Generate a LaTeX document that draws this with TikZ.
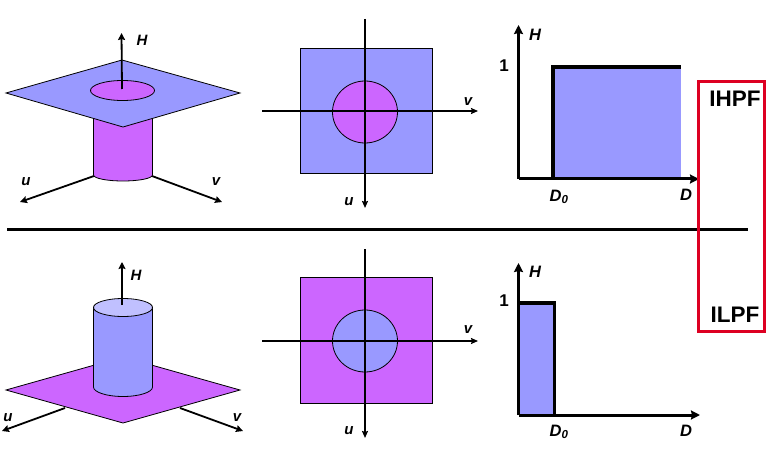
\documentclass[tikz,border=0pt]{standalone}
\usepackage{fontspec}
\setmainfont{Liberation Sans}
\usetikzlibrary{arrows.meta}
\definecolor{filtblue}{RGB}{153,153,255}
\definecolor{filtlight}{RGB}{192,192,255}
\definecolor{filtpurple}{RGB}{204,102,255}
\definecolor{framered}{RGB}{221,0,34}
\tikzset{
  thinline/.style={draw=black,line width=0.8pt},
  axis3d/.style={draw=black,line width=1.8pt,-{Stealth[length=7pt,width=7pt,inset=1pt]}},
  axis2d/.style={draw=black,line width=1.5pt,-{Stealth[length=7pt,width=6pt,inset=1pt]}},
  plotaxis/.style={draw=black,line width=3pt,-{Stealth[length=9pt,width=9pt,inset=1pt]}},
  plotline/.style={draw=black,line width=3.2pt},
  axlabel/.style={font=\bfseries\itshape\fontsize{15}{17}\selectfont,inner sep=0pt},
  plotlabel/.style={font=\bfseries\itshape\fontsize{16.5}{19}\selectfont,inner sep=0pt},
  numlabel/.style={font=\bfseries\fontsize{17}{19}\selectfont,inner sep=0pt},
  tag/.style={font=\bfseries\fontsize{22.5}{25}\selectfont,inner sep=0pt}
}
\begin{document}
\begin{tikzpicture}[x=1pt,y=-1pt]
\useasboundingbox (0,0) rectangle (774,468);
% ===== top 3D =====
\coordinate (tuo) at (94,176);
\coordinate (tue) at (20,202);
\coordinate (tvo) at (152,176);
\coordinate (tve) at (222,202);
\coordinate (tho) at (122,89);
\coordinate (the) at (121.5,33);
\draw[axis3d] (tuo) -- (tue);
\draw[axis3d] (tvo) -- (tve);
\path[fill=filtpurple,thinline] (93.5,110) -- (93.5,175) arc[start angle=180,end angle=0,x radius=29.5,y radius=6] -- (152.5,110) -- cycle;
\path[fill=filtblue,thinline] (6,93) -- (122,60) -- (240,93) -- (123,127) -- cycle;
\path[fill=filtpurple,thinline] (122.5,90.5) ellipse[x radius=32,y radius=10];
\draw[axis3d] (tho) -- (the);
\node[axlabel] (th) at (142,40) {H};
\node[axlabel] (tu) at (26,182) {u};
\node[axlabel] (tv) at (216,182) {v};
% ===== bottom 3D =====
\coordinate (buo) at (65,408);
\coordinate (bue) at (2,431);
\coordinate (bvo) at (180,408);
\coordinate (bve) at (243,431);
\coordinate (bho) at (122,305);
\coordinate (bhe) at (122,262);
\draw[axis3d] (buo) -- (bue);
\draw[axis3d] (bvo) -- (bve);
\path[fill=filtpurple,thinline] (6,390) -- (123,357) -- (240,390) -- (123,423) -- cycle;
\path[fill=filtblue,thinline] (93.5,307.5) -- (93.5,387) arc[start angle=180,end angle=0,x radius=29.5,y radius=9.5] -- (152.5,307.5) -- cycle;
\path[fill=filtlight,thinline] (123,307.5) ellipse[x radius=29.5,y radius=9];
\draw[axis3d] (bho) -- (bhe);
\node[axlabel] (bh) at (136,275) {H};
\node[axlabel] (bu) at (8,418) {u};
\node[axlabel] (bv) at (237,418) {v};
% ===== top plan =====
\path[fill=filtblue,thinline] (300.5,48.5) rectangle (432.5,173);
\path[fill=filtpurple,thinline] (365,112) ellipse[x radius=32.5,y radius=31];
\coordinate (pvs) at (262,111);
\coordinate (pve) at (478,111);
\coordinate (pus) at (365,19);
\coordinate (pue) at (365,208);
\draw[axis2d] (pvs) -- (pve);
\draw[axis2d] (pus) -- (pue);
\node[axlabel] (pv) at (468,102) {v};
\node[axlabel] (pu) at (349,202) {u};
% ===== bottom plan =====
\path[fill=filtpurple,thinline] (300.5,277.5) rectangle (432.5,403);
\path[fill=filtblue,thinline] (365,341) ellipse[x radius=32.5,y radius=31];
\coordinate (qvs) at (262,341);
\coordinate (qve) at (478,341);
\coordinate (qus) at (365,249);
\coordinate (que) at (365,438);
\draw[axis2d] (qvs) -- (qve);
\draw[axis2d] (qus) -- (que);
\node[axlabel] (qv) at (468,330) {v};
\node[axlabel] (qu) at (349,431) {u};
% ===== top plot =====
\fill[filtblue] (553,66) rectangle (681,177);
\coordinate (ro) at (518.5,179);
\coordinate (ry) at (518.5,25);
\coordinate (rx) at (699,179);
\draw[plotaxis] (ro) -- (ry);
\draw[plotaxis] (ro) -- (rx);
\draw[plotline] (553,179) -- (553,67) -- (681,67);
\node[plotlabel] (rh) at (535,35) {H};
\node[numlabel] (r1) at (504,66) {1};
\node[plotlabel] (rd0) at (559,197) {D\textsubscript{0}};
\node[plotlabel] (rd) at (686,195) {D};
% ===== bottom plot =====
\path[fill=filtblue] (518.5,303) rectangle (554.5,415);
\coordinate (so) at (518.5,415);
\coordinate (sy) at (518.5,263);
\coordinate (sx) at (700,415);
\draw[plotaxis] (so) -- (sy);
\draw[plotaxis] (so) -- (sx);
\draw[plotline] (518.5,303) -- (554.5,303) -- (554.5,415);
\node[plotlabel] (sh) at (535,272) {H};
\node[numlabel] (s1) at (504,301) {1};
\node[plotlabel] (sd0) at (559,432) {D\textsubscript{0}};
\node[plotlabel] (sd) at (686,431) {D};
% ===== divider and frame =====
\coordinate (dl) at (7,229);
\coordinate (dr) at (748,229);
\draw[draw=black,line width=3pt] (dl) -- (dr);
\draw[draw=framered,line width=3pt] (698.5,82) rectangle (764,331);
\node[tag] (ihpf) at (735,99) {IHPF};
\node[tag] (ilpf) at (735,315) {ILPF};
\end{tikzpicture}
\end{document}
